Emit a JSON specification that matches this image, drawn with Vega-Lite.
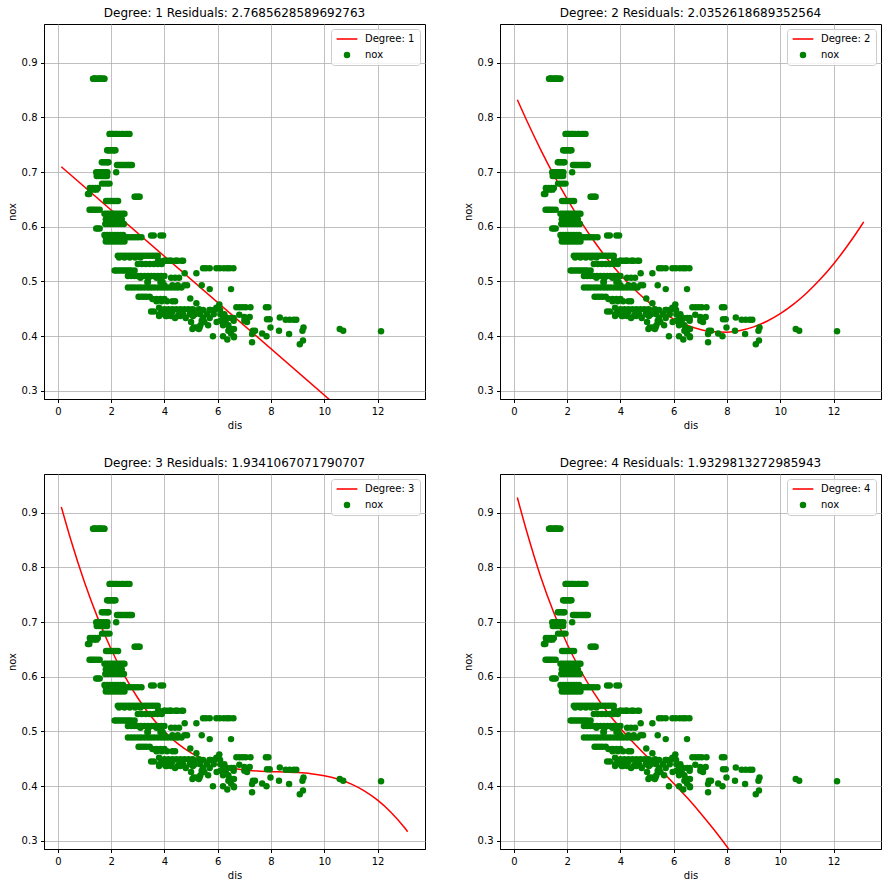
{
"$schema": "https://vega.github.io/schema/vega-lite/v6.json",
"background": "white",
"padding": {"left": 6, "top": 6, "right": 0, "bottom": 0},
"config": {
  "font": "DejaVu Sans",
  "view": {"stroke": "black", "strokeWidth": 1},
  "axis": {"domainColor": "black", "domainWidth": 1, "tickColor": "black", "tickSize": 3.5, "labelPadding": 3.5, "labelFontSize": 10, "labelColor": "black", "titleFontSize": 10, "titleFontWeight": "normal", "titleColor": "black", "gridColor": "#b0b0b0", "gridWidth": 0.8, "titlePadding": 4},
  "title": {"fontSize": 12, "fontWeight": "normal", "color": "black", "offset": 4},
  "legend": {"title": null, "orient": "top-right", "offset": 5, "padding": 5, "symbolOffset": 6, "labelOffset": 13, "labelFontSize": 10, "labelColor": "black", "symbolSize": 42, "fillColor": "rgba(255,255,255,0.8)", "strokeColor": "#cccccc", "cornerRadius": 3, "rowPadding": 6, "symbolStrokeWidth": 0, "symbolOpacity": 1}
},
"datasets": {
"pts": [
{"dis":1.32,"nox":0.871},{"dis":1.35,"nox":0.871},{"dis":1.36,"nox":0.871},{"dis":1.39,"nox":0.871},{"dis":1.42,"nox":0.871},{"dis":1.43,"nox":0.871},{"dis":1.47,"nox":0.871},{"dis":1.52,"nox":0.871},{"dis":1.53,"nox":0.871},{"dis":1.56,"nox":0.871},{"dis":1.58,"nox":0.871},{"dis":1.61,"nox":0.871},{"dis":1.62,"nox":0.871},{"dis":1.63,"nox":0.871},{"dis":1.7,"nox":0.871},{"dis":1.73,"nox":0.871},{"dis":1.75,"nox":0.871},
{"dis":1.94,"nox":0.77},{"dis":1.96,"nox":0.77},{"dis":2.02,"nox":0.77},{"dis":2.05,"nox":0.77},{"dis":2.1,"nox":0.77},{"dis":2.17,"nox":0.77},{"dis":2.22,"nox":0.77},{"dis":2.3,"nox":0.77},{"dis":2.4,"nox":0.77},{"dis":2.45,"nox":0.77},{"dis":2.55,"nox":0.77},{"dis":2.62,"nox":0.77},{"dis":2.69,"nox":0.77},
{"dis":1.85,"nox":0.74},{"dis":1.88,"nox":0.74},{"dis":1.91,"nox":0.74},{"dis":1.94,"nox":0.74},{"dis":1.98,"nox":0.74},{"dis":2.02,"nox":0.74},{"dis":2.06,"nox":0.74},{"dis":2.1,"nox":0.74},{"dis":2.13,"nox":0.74},{"dis":2.16,"nox":0.74},
{"dis":1.65,"nox":0.718},{"dis":1.7,"nox":0.718},{"dis":1.76,"nox":0.718},{"dis":1.82,"nox":0.718},{"dis":1.87,"nox":0.718},{"dis":1.9,"nox":0.718},
{"dis":2.22,"nox":0.713},{"dis":2.27,"nox":0.713},{"dis":2.32,"nox":0.713},{"dis":2.38,"nox":0.713},{"dis":2.43,"nox":0.713},{"dis":2.5,"nox":0.713},{"dis":2.56,"nox":0.713},{"dis":2.62,"nox":0.713},{"dis":2.68,"nox":0.713},{"dis":2.73,"nox":0.713},{"dis":2.78,"nox":0.713},
{"dis":1.44,"nox":0.7},{"dis":1.5,"nox":0.7},{"dis":1.57,"nox":0.7},{"dis":1.64,"nox":0.7},{"dis":1.72,"nox":0.7},{"dis":1.8,"nox":0.7},{"dis":1.86,"nox":0.7},{"dis":2.19,"nox":0.7},
{"dis":1.46,"nox":0.693},{"dis":1.54,"nox":0.693},{"dis":1.62,"nox":0.693},{"dis":1.7,"nox":0.693},{"dis":1.78,"nox":0.693},{"dis":1.85,"nox":0.693},
{"dis":1.66,"nox":0.679},{"dis":1.75,"nox":0.679},{"dis":1.85,"nox":0.679},{"dis":1.94,"nox":0.679},
{"dis":1.2,"nox":0.671},{"dis":1.3,"nox":0.671},{"dis":1.4,"nox":0.671},{"dis":1.5,"nox":0.671},
{"dis":1.22,"nox":0.668},{"dis":1.35,"nox":0.668},{"dis":1.45,"nox":0.668},
{"dis":1.13,"nox":0.66},{"dis":1.18,"nox":0.66},
{"dis":2.88,"nox":0.655},{"dis":2.93,"nox":0.655},{"dis":2.98,"nox":0.655},{"dis":3.03,"nox":0.655},{"dis":3.07,"nox":0.655},
{"dis":1.81,"nox":0.647},{"dis":1.88,"nox":0.647},{"dis":1.95,"nox":0.647},{"dis":2.02,"nox":0.647},{"dis":2.1,"nox":0.647},{"dis":2.18,"nox":0.647},{"dis":2.26,"nox":0.647},
{"dis":1.19,"nox":0.631},{"dis":1.26,"nox":0.631},{"dis":1.33,"nox":0.631},{"dis":1.4,"nox":0.631},{"dis":1.48,"nox":0.631},{"dis":1.57,"nox":0.631},
{"dis":1.75,"nox":0.624},{"dis":1.82,"nox":0.624},{"dis":1.9,"nox":0.624},{"dis":1.98,"nox":0.624},{"dis":2.05,"nox":0.624},{"dis":2.12,"nox":0.624},{"dis":2.2,"nox":0.624},{"dis":2.28,"nox":0.624},{"dis":2.36,"nox":0.624},{"dis":2.44,"nox":0.624},{"dis":2.5,"nox":0.624},
{"dis":1.8,"nox":0.614},{"dis":1.9,"nox":0.614},{"dis":2.0,"nox":0.614},{"dis":2.1,"nox":0.614},{"dis":2.2,"nox":0.614},{"dis":2.3,"nox":0.614},{"dis":2.4,"nox":0.614},
{"dis":1.78,"nox":0.605},{"dis":1.88,"nox":0.605},{"dis":1.98,"nox":0.605},{"dis":2.08,"nox":0.605},{"dis":2.18,"nox":0.605},{"dis":2.28,"nox":0.605},{"dis":2.38,"nox":0.605},{"dis":2.48,"nox":0.605},
{"dis":1.44,"nox":0.597},{"dis":1.5,"nox":0.597},{"dis":1.57,"nox":0.597},
{"dis":1.75,"nox":0.585},{"dis":1.85,"nox":0.585},{"dis":1.95,"nox":0.585},{"dis":2.05,"nox":0.585},{"dis":2.15,"nox":0.585},{"dis":2.25,"nox":0.585},{"dis":2.35,"nox":0.585},{"dis":2.45,"nox":0.585},
{"dis":1.8,"nox":0.581},{"dis":1.95,"nox":0.581},{"dis":2.1,"nox":0.581},{"dis":2.25,"nox":0.581},{"dis":2.4,"nox":0.581},{"dis":2.5,"nox":0.581},{"dis":2.62,"nox":0.581},{"dis":2.72,"nox":0.581},{"dis":2.82,"nox":0.581},{"dis":2.92,"nox":0.581},{"dis":3.02,"nox":0.581},{"dis":3.14,"nox":0.581},
{"dis":3.5,"nox":0.584},{"dis":3.6,"nox":0.584},{"dis":3.85,"nox":0.584},{"dis":3.95,"nox":0.584},
{"dis":1.8,"nox":0.573},{"dis":1.9,"nox":0.573},{"dis":2.0,"nox":0.573},{"dis":2.1,"nox":0.573},{"dis":2.2,"nox":0.573},{"dis":2.3,"nox":0.573},{"dis":2.4,"nox":0.573},{"dis":2.5,"nox":0.573},
{"dis":2.25,"nox":0.547},{"dis":2.35,"nox":0.547},{"dis":2.45,"nox":0.547},{"dis":2.55,"nox":0.547},{"dis":2.65,"nox":0.547},{"dis":2.75,"nox":0.547},{"dis":2.85,"nox":0.547},{"dis":2.95,"nox":0.547},{"dis":3.05,"nox":0.547},{"dis":3.15,"nox":0.547},{"dis":3.25,"nox":0.547},{"dis":3.35,"nox":0.547},{"dis":3.45,"nox":0.547},{"dis":3.55,"nox":0.547},{"dis":3.65,"nox":0.547},{"dis":3.75,"nox":0.547},
{"dis":2.3,"nox":0.544},{"dis":2.5,"nox":0.544},{"dis":2.7,"nox":0.544},{"dis":2.9,"nox":0.544},{"dis":3.1,"nox":0.544},
{"dis":3.76,"nox":0.538},{"dis":3.8,"nox":0.538},{"dis":3.99,"nox":0.538},{"dis":4.01,"nox":0.538},{"dis":4.1,"nox":0.538},{"dis":4.18,"nox":0.538},{"dis":4.23,"nox":0.538},{"dis":4.26,"nox":0.538},{"dis":4.4,"nox":0.538},{"dis":4.45,"nox":0.538},{"dis":4.5,"nox":0.538},{"dis":4.64,"nox":0.538},{"dis":4.7,"nox":0.538},
{"dis":3.0,"nox":0.532},{"dis":3.15,"nox":0.532},{"dis":3.3,"nox":0.532},{"dis":3.45,"nox":0.532},{"dis":3.6,"nox":0.532},{"dis":3.75,"nox":0.532},{"dis":3.9,"nox":0.532},
{"dis":5.45,"nox":0.524},{"dis":5.56,"nox":0.524},{"dis":5.7,"nox":0.524},{"dis":5.95,"nox":0.524},{"dis":6.08,"nox":0.524},{"dis":6.23,"nox":0.524},{"dis":6.35,"nox":0.524},{"dis":6.45,"nox":0.524},{"dis":6.59,"nox":0.524},
{"dis":2.13,"nox":0.52},{"dis":2.2,"nox":0.52},{"dis":2.28,"nox":0.52},{"dis":2.36,"nox":0.52},{"dis":2.44,"nox":0.52},{"dis":2.52,"nox":0.52},{"dis":2.6,"nox":0.52},{"dis":2.68,"nox":0.52},{"dis":2.76,"nox":0.52},{"dis":2.88,"nox":0.52},
{"dis":4.76,"nox":0.515},{"dis":5.2,"nox":0.515},
{"dis":2.63,"nox":0.51},{"dis":2.75,"nox":0.51},{"dis":2.87,"nox":0.51},{"dis":3.0,"nox":0.51},{"dis":3.12,"nox":0.51},{"dis":3.25,"nox":0.51},{"dis":3.38,"nox":0.51},{"dis":3.5,"nox":0.51},{"dis":3.62,"nox":0.51},{"dis":3.75,"nox":0.51},{"dis":3.88,"nox":0.51},{"dis":4.0,"nox":0.51},
{"dis":3.1,"nox":0.507},{"dis":3.4,"nox":0.507},{"dis":3.7,"nox":0.507},{"dis":4.25,"nox":0.507},{"dis":4.4,"nox":0.507},{"dis":4.55,"nox":0.507},
{"dis":3.36,"nox":0.499},{"dis":3.38,"nox":0.499},{"dis":3.85,"nox":0.499},{"dis":3.93,"nox":0.499},
{"dis":4.0,"nox":0.493},{"dis":4.3,"nox":0.493},{"dis":4.5,"nox":0.493},{"dis":4.75,"nox":0.493},{"dis":4.85,"nox":0.493},{"dis":5.4,"nox":0.493},
{"dis":2.63,"nox":0.489},{"dis":2.75,"nox":0.489},{"dis":2.87,"nox":0.489},{"dis":3.0,"nox":0.489},{"dis":3.12,"nox":0.489},{"dis":3.25,"nox":0.489},{"dis":3.38,"nox":0.489},{"dis":3.5,"nox":0.489},{"dis":3.62,"nox":0.489},{"dis":3.75,"nox":0.489},{"dis":3.88,"nox":0.489},{"dis":4.0,"nox":0.489},{"dis":4.12,"nox":0.489},{"dis":4.25,"nox":0.489},{"dis":4.38,"nox":0.489},{"dis":4.5,"nox":0.489},{"dis":4.64,"nox":0.489},
{"dis":5.7,"nox":0.486},{"dis":6.5,"nox":0.486},
{"dis":3.03,"nox":0.472},{"dis":3.13,"nox":0.472},{"dis":3.23,"nox":0.472},{"dis":3.33,"nox":0.472},{"dis":3.45,"nox":0.472},
{"dis":3.55,"nox":0.468},{"dis":3.7,"nox":0.468},{"dis":3.85,"nox":0.468},{"dis":4.0,"nox":0.468},
{"dis":3.7,"nox":0.464},{"dis":3.9,"nox":0.464},{"dis":4.1,"nox":0.464},{"dis":4.3,"nox":0.464},{"dis":4.4,"nox":0.464},
{"dis":4.97,"nox":0.469},{"dis":5.2,"nox":0.46},{"dis":6.06,"nox":0.458},
{"dis":6.7,"nox":0.453},{"dis":6.82,"nox":0.453},{"dis":6.93,"nox":0.453},{"dis":7.05,"nox":0.453},{"dis":7.23,"nox":0.453},{"dis":7.81,"nox":0.453},{"dis":7.9,"nox":0.453},
{"dis":3.8,"nox":0.452},{"dis":5.95,"nox":0.452},
{"dis":4.0,"nox":0.449},{"dis":4.15,"nox":0.449},{"dis":4.3,"nox":0.449},{"dis":4.45,"nox":0.449},{"dis":4.6,"nox":0.449},{"dis":4.75,"nox":0.449},{"dis":4.9,"nox":0.449},{"dis":5.05,"nox":0.449},{"dis":5.3,"nox":0.449},
{"dis":5.1,"nox":0.448},{"dis":5.45,"nox":0.448},{"dis":5.69,"nox":0.448},{"dis":5.72,"nox":0.448},{"dis":5.87,"nox":0.448},{"dis":6.09,"nox":0.448},
{"dis":3.5,"nox":0.445},{"dis":3.6,"nox":0.445},{"dis":3.9,"nox":0.445},{"dis":4.1,"nox":0.445},{"dis":4.2,"nox":0.445},{"dis":4.3,"nox":0.445},
{"dis":3.8,"nox":0.44},{"dis":4.0,"nox":0.44},{"dis":4.25,"nox":0.44},{"dis":4.55,"nox":0.44},{"dis":4.7,"nox":0.44},{"dis":4.95,"nox":0.44},{"dis":5.15,"nox":0.44},{"dis":5.35,"nox":0.44},{"dis":5.6,"nox":0.44},{"dis":5.85,"nox":0.44},{"dis":6.1,"nox":0.44},{"dis":6.25,"nox":0.44},
{"dis":3.8,"nox":0.437},{"dis":4.05,"nox":0.437},{"dis":4.09,"nox":0.437},{"dis":4.25,"nox":0.437},{"dis":4.5,"nox":0.437},{"dis":4.6,"nox":0.437},{"dis":5.07,"nox":0.437},
{"dis":4.4,"nox":0.433},{"dis":4.8,"nox":0.433},{"dis":5.45,"nox":0.433},{"dis":5.7,"nox":0.433},{"dis":6.2,"nox":0.433},{"dis":6.35,"nox":0.433},{"dis":6.5,"nox":0.433},{"dis":6.6,"nox":0.433},
{"dis":6.81,"nox":0.439},{"dis":7.0,"nox":0.435},{"dis":7.2,"nox":0.435},
{"dis":5.4,"nox":0.428},{"dis":6.1,"nox":0.428},{"dis":6.3,"nox":0.428},{"dis":6.6,"nox":0.428},{"dis":7.0,"nox":0.428},
{"dis":5.0,"nox":0.426},{"dis":5.5,"nox":0.426},{"dis":5.96,"nox":0.426},{"dis":7.1,"nox":0.426},
{"dis":7.85,"nox":0.431},{"dis":7.95,"nox":0.431},{"dis":8.33,"nox":0.434},
{"dis":8.55,"nox":0.43},{"dis":8.7,"nox":0.43},{"dis":8.85,"nox":0.43},{"dis":8.95,"nox":0.43},
{"dis":5.35,"nox":0.42},{"dis":5.64,"nox":0.42},{"dis":6.2,"nox":0.42},{"dis":6.4,"nox":0.42},
{"dis":5.1,"nox":0.416},{"dis":5.2,"nox":0.416},{"dis":5.32,"nox":0.416},{"dis":9.22,"nox":0.416},{"dis":7.98,"nox":0.416},
{"dis":5.05,"nox":0.413},{"dis":5.29,"nox":0.413},{"dis":6.5,"nox":0.413},{"dis":6.61,"nox":0.413},{"dis":10.58,"nox":0.413},
{"dis":6.4,"nox":0.41},{"dis":7.32,"nox":0.41},{"dis":7.4,"nox":0.41},{"dis":8.3,"nox":0.41},{"dis":9.18,"nox":0.41},{"dis":10.71,"nox":0.41},
{"dis":12.13,"nox":0.409},
{"dis":6.5,"nox":0.405},{"dis":7.67,"nox":0.405},
{"dis":7.29,"nox":0.404},{"dis":8.68,"nox":0.404},
{"dis":5.82,"nox":0.4},{"dis":6.2,"nox":0.4},{"dis":6.6,"nox":0.4},{"dis":7.83,"nox":0.4},
{"dis":6.61,"nox":0.398},{"dis":6.36,"nox":0.394},{"dis":9.2,"nox":0.392},{"dis":7.29,"nox":0.389},{"dis":9.08,"nox":0.385}
]
},
"columns": 2,
"spacing": 75,
"bounds": "flush",
"resolve": {"scale": {"color": "independent", "shape": "independent", "x": "independent", "y": "independent"}, "legend": {"color": "independent", "shape": "independent"}},
"concat": [
{
 "title": "Degree: 1 Residuals: 2.7685628589692763",
 "width": 381, "height": 375,
 "layer": [
  {"data": {"values": [{"dis":0.13,"nox":0.7098},{"dis":13.13,"nox":0.1596}]},
   "mark": {"type": "line", "strokeWidth": 1.5, "clip": true},
   "encoding": {
    "x": {"field": "dis", "type": "quantitative", "scale": {"domain": [-0.52, 13.78], "nice": false, "zero": false}, "axis": {"values": [0,2,4,6,8,10,12], "title": "dis"}},
    "y": {"field": "nox", "type": "quantitative", "scale": {"domain": [0.285, 0.971], "nice": false, "zero": false}, "axis": {"values": [0.3,0.4,0.5,0.6,0.7,0.8,0.9], "format": ".1f", "title": "nox"}},
    "color": {"datum": "Degree: 1", "type": "nominal", "scale": {"domain": ["Degree: 1", "nox"], "range": ["#ff0000", "#008000"]}}
   }},
  {"data": {"name": "pts"},
   "mark": {"type": "point", "filled": true, "size": 42, "opacity": 1},
   "encoding": {
    "x": {"field": "dis", "type": "quantitative"},
    "y": {"field": "nox", "type": "quantitative"},
    "color": {"datum": "nox", "type": "nominal"},
    "shape": {"datum": "nox", "type": "nominal", "scale": {"domain": ["Degree: 1", "nox"], "range": ["M-3.2,-0.24H3.2V0.24H-3.2Z", "circle"]}}
   }}
 ]
},
{
 "title": "Degree: 2 Residuals: 2.0352618689352564",
 "width": 381, "height": 375,
 "layer": [
  {"data": {"values": [{"dis":0.13,"nox":0.8325},{"dis":0.5,"nox":0.7926},{"dis":1,"nox":0.7418},{"dis":1.5,"nox":0.6946},{"dis":2,"nox":0.6509},{"dis":2.5,"nox":0.6109},{"dis":3,"nox":0.5744},{"dis":3.5,"nox":0.5416},{"dis":4,"nox":0.5123},{"dis":4.5,"nox":0.4866},{"dis":5,"nox":0.4645},{"dis":5.5,"nox":0.446},{"dis":6,"nox":0.4311},{"dis":6.5,"nox":0.4198},{"dis":7,"nox":0.412},{"dis":7.5,"nox":0.4079},{"dis":8,"nox":0.4073},{"dis":8.5,"nox":0.4104},{"dis":9,"nox":0.417},{"dis":9.5,"nox":0.4272},{"dis":10,"nox":0.441},{"dis":10.5,"nox":0.4584},{"dis":11,"nox":0.4794},{"dis":11.5,"nox":0.5039},{"dis":12,"nox":0.5321},{"dis":12.5,"nox":0.5639},{"dis":13,"nox":0.5992},{"dis":13.13,"nox":0.609}]},
   "mark": {"type": "line", "strokeWidth": 1.5, "clip": true, "interpolate": "monotone"},
   "encoding": {
    "x": {"field": "dis", "type": "quantitative", "scale": {"domain": [-0.52, 13.78], "nice": false, "zero": false}, "axis": {"values": [0,2,4,6,8,10,12], "title": "dis"}},
    "y": {"field": "nox", "type": "quantitative", "scale": {"domain": [0.285, 0.971], "nice": false, "zero": false}, "axis": {"values": [0.3,0.4,0.5,0.6,0.7,0.8,0.9], "format": ".1f", "title": "nox"}},
    "color": {"datum": "Degree: 2", "type": "nominal", "scale": {"domain": ["Degree: 2", "nox"], "range": ["#ff0000", "#008000"]}}
   }},
  {"data": {"name": "pts"},
   "mark": {"type": "point", "filled": true, "size": 42, "opacity": 1},
   "encoding": {
    "x": {"field": "dis", "type": "quantitative"},
    "y": {"field": "nox", "type": "quantitative"},
    "color": {"datum": "nox", "type": "nominal"},
    "shape": {"datum": "nox", "type": "nominal", "scale": {"domain": ["Degree: 2", "nox"], "range": ["M-3.2,-0.24H3.2V0.24H-3.2Z", "circle"]}}
   }}
 ]
},
{
 "title": "Degree: 3 Residuals: 1.9341067071790707",
 "width": 381, "height": 375,
 "layer": [
  {"data": {"values": [{"dis":0.13,"nox":0.9108},{"dis":0.5,"nox":0.8484},{"dis":1,"nox":0.773},{"dis":1.5,"nox":0.7073},{"dis":2,"nox":0.6505},{"dis":2.5,"nox":0.602},{"dis":3,"nox":0.5612},{"dis":3.5,"nox":0.5273},{"dis":4,"nox":0.4997},{"dis":4.5,"nox":0.4778},{"dis":5,"nox":0.4609},{"dis":5.5,"nox":0.4482},{"dis":6,"nox":0.4392},{"dis":6.5,"nox":0.4333},{"dis":7,"nox":0.4296},{"dis":7.5,"nox":0.4276},{"dis":8,"nox":0.4265},{"dis":8.5,"nox":0.4259},{"dis":9,"nox":0.4248},{"dis":9.5,"nox":0.4228},{"dis":10,"nox":0.4191},{"dis":10.5,"nox":0.4131},{"dis":11,"nox":0.4041},{"dis":11.5,"nox":0.3913},{"dis":12,"nox":0.3744},{"dis":12.5,"nox":0.3524},{"dis":13,"nox":0.3248},{"dis":13.13,"nox":0.3165}]},
   "mark": {"type": "line", "strokeWidth": 1.5, "clip": true, "interpolate": "monotone"},
   "encoding": {
    "x": {"field": "dis", "type": "quantitative", "scale": {"domain": [-0.52, 13.78], "nice": false, "zero": false}, "axis": {"values": [0,2,4,6,8,10,12], "title": "dis"}},
    "y": {"field": "nox", "type": "quantitative", "scale": {"domain": [0.285, 0.971], "nice": false, "zero": false}, "axis": {"values": [0.3,0.4,0.5,0.6,0.7,0.8,0.9], "format": ".1f", "title": "nox"}},
    "color": {"datum": "Degree: 3", "type": "nominal", "scale": {"domain": ["Degree: 3", "nox"], "range": ["#ff0000", "#008000"]}}
   }},
  {"data": {"name": "pts"},
   "mark": {"type": "point", "filled": true, "size": 42, "opacity": 1},
   "encoding": {
    "x": {"field": "dis", "type": "quantitative"},
    "y": {"field": "nox", "type": "quantitative"},
    "color": {"datum": "nox", "type": "nominal"},
    "shape": {"datum": "nox", "type": "nominal", "scale": {"domain": ["Degree: 3", "nox"], "range": ["M-3.2,-0.24H3.2V0.24H-3.2Z", "circle"]}}
   }}
 ]
},
{
 "title": "Degree: 4 Residuals: 1.9329813272985943",
 "width": 381, "height": 375,
 "layer": [
  {"data": {"values": [{"dis":0.13,"nox":0.928},{"dis":0.5,"nox":0.863},{"dis":1,"nox":0.784},{"dis":1.5,"nox":0.717},{"dis":2,"nox":0.66},{"dis":2.5,"nox":0.612},{"dis":3,"nox":0.571},{"dis":3.5,"nox":0.536},{"dis":4,"nox":0.506},{"dis":4.5,"nox":0.479},{"dis":5,"nox":0.454},{"dis":5.5,"nox":0.43},{"dis":6,"nox":0.405},{"dis":6.5,"nox":0.379},{"dis":7,"nox":0.351},{"dis":7.5,"nox":0.321},{"dis":8,"nox":0.289},{"dis":8.5,"nox":0.254}]},
   "mark": {"type": "line", "strokeWidth": 1.5, "clip": true, "interpolate": "monotone"},
   "encoding": {
    "x": {"field": "dis", "type": "quantitative", "scale": {"domain": [-0.52, 13.78], "nice": false, "zero": false}, "axis": {"values": [0,2,4,6,8,10,12], "title": "dis"}},
    "y": {"field": "nox", "type": "quantitative", "scale": {"domain": [0.285, 0.971], "nice": false, "zero": false}, "axis": {"values": [0.3,0.4,0.5,0.6,0.7,0.8,0.9], "format": ".1f", "title": "nox"}},
    "color": {"datum": "Degree: 4", "type": "nominal", "scale": {"domain": ["Degree: 4", "nox"], "range": ["#ff0000", "#008000"]}}
   }},
  {"data": {"name": "pts"},
   "mark": {"type": "point", "filled": true, "size": 42, "opacity": 1},
   "encoding": {
    "x": {"field": "dis", "type": "quantitative"},
    "y": {"field": "nox", "type": "quantitative"},
    "color": {"datum": "nox", "type": "nominal"},
    "shape": {"datum": "nox", "type": "nominal", "scale": {"domain": ["Degree: 4", "nox"], "range": ["M-3.2,-0.24H3.2V0.24H-3.2Z", "circle"]}}
   }}
 ]
}
]
}
